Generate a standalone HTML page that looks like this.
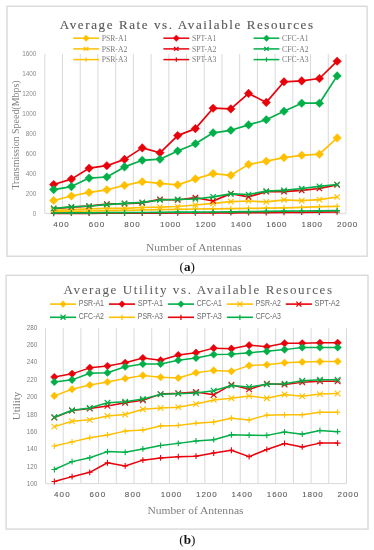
<!DOCTYPE html>
<html><head><meta charset="utf-8"><style>
html,body{margin:0;padding:0;background:#fff;width:374px;height:550px;overflow:hidden;font-family:"Liberation Sans",sans-serif}
svg{display:block;will-change:transform}
</style></head><body>
<svg width="374" height="550" viewBox="0 0 374 550">
<rect x="7" y="6.3" width="360.1" height="249.9" fill="none" stroke="#D9D9D9" stroke-width="1.4"/>
<rect x="6.1" y="275.3" width="361.9" height="253.8" fill="none" stroke="#D9D9D9" stroke-width="1.4"/>
<text x="59.7" y="28.7" font-family="Liberation Serif" font-size="13" fill="#595959" stroke="#595959" stroke-width="0.15" textLength="253.3" lengthAdjust="spacing">Average Rate vs. Available Resources</text>
<line x1="44.8" y1="53.9" x2="44.8" y2="213.4" stroke="#D9D9D9" stroke-width="1"/>
<line x1="62.52" y1="53.9" x2="62.52" y2="213.4" stroke="#D9D9D9" stroke-width="1"/>
<line x1="80.24" y1="53.9" x2="80.24" y2="213.4" stroke="#D9D9D9" stroke-width="1"/>
<line x1="97.95" y1="53.9" x2="97.95" y2="213.4" stroke="#D9D9D9" stroke-width="1"/>
<line x1="115.67" y1="53.9" x2="115.67" y2="213.4" stroke="#D9D9D9" stroke-width="1"/>
<line x1="133.39" y1="53.9" x2="133.39" y2="213.4" stroke="#D9D9D9" stroke-width="1"/>
<line x1="151.11" y1="53.9" x2="151.11" y2="213.4" stroke="#D9D9D9" stroke-width="1"/>
<line x1="168.82" y1="53.9" x2="168.82" y2="213.4" stroke="#D9D9D9" stroke-width="1"/>
<line x1="186.54" y1="53.9" x2="186.54" y2="213.4" stroke="#D9D9D9" stroke-width="1"/>
<line x1="204.26" y1="53.9" x2="204.26" y2="213.4" stroke="#D9D9D9" stroke-width="1"/>
<line x1="221.98" y1="53.9" x2="221.98" y2="213.4" stroke="#D9D9D9" stroke-width="1"/>
<line x1="239.69" y1="53.9" x2="239.69" y2="213.4" stroke="#D9D9D9" stroke-width="1"/>
<line x1="257.41" y1="53.9" x2="257.41" y2="213.4" stroke="#D9D9D9" stroke-width="1"/>
<line x1="275.13" y1="53.9" x2="275.13" y2="213.4" stroke="#D9D9D9" stroke-width="1"/>
<line x1="292.85" y1="53.9" x2="292.85" y2="213.4" stroke="#D9D9D9" stroke-width="1"/>
<line x1="310.56" y1="53.9" x2="310.56" y2="213.4" stroke="#D9D9D9" stroke-width="1"/>
<line x1="328.28" y1="53.9" x2="328.28" y2="213.4" stroke="#D9D9D9" stroke-width="1"/>
<line x1="346" y1="53.9" x2="346" y2="213.4" stroke="#D9D9D9" stroke-width="1"/>
<line x1="44.8" y1="213.4" x2="346" y2="213.4" stroke="#D9D9D9" stroke-width="1"/>
<polyline points="53.66,200.5 71.38,196 89.09,192.4 106.81,189.8 124.53,185.4 142.25,181.7 159.96,183.4 177.68,184.9 195.4,178.9 213.12,173.6 230.84,175.3 248.55,164.4 266.27,161.2 283.99,157.6 301.71,155.3 319.42,154.2 337.14,137.9" fill="none" stroke="#FFC000" stroke-width="1.7" stroke-linejoin="round"/>
<path d="M53.66 196.2L57.96 200.5L53.66 204.8L49.36 200.5Z" fill="#FFC000" stroke="#FFC000" stroke-width="0.4" stroke-linejoin="round"/>
<path d="M71.38 191.7L75.68 196L71.38 200.3L67.08 196Z" fill="#FFC000" stroke="#FFC000" stroke-width="0.4" stroke-linejoin="round"/>
<path d="M89.09 188.1L93.39 192.4L89.09 196.7L84.79 192.4Z" fill="#FFC000" stroke="#FFC000" stroke-width="0.4" stroke-linejoin="round"/>
<path d="M106.81 185.5L111.11 189.8L106.81 194.1L102.51 189.8Z" fill="#FFC000" stroke="#FFC000" stroke-width="0.4" stroke-linejoin="round"/>
<path d="M124.53 181.1L128.83 185.4L124.53 189.7L120.23 185.4Z" fill="#FFC000" stroke="#FFC000" stroke-width="0.4" stroke-linejoin="round"/>
<path d="M142.25 177.4L146.55 181.7L142.25 186L137.95 181.7Z" fill="#FFC000" stroke="#FFC000" stroke-width="0.4" stroke-linejoin="round"/>
<path d="M159.96 179.1L164.26 183.4L159.96 187.7L155.66 183.4Z" fill="#FFC000" stroke="#FFC000" stroke-width="0.4" stroke-linejoin="round"/>
<path d="M177.68 180.6L181.98 184.9L177.68 189.2L173.38 184.9Z" fill="#FFC000" stroke="#FFC000" stroke-width="0.4" stroke-linejoin="round"/>
<path d="M195.4 174.6L199.7 178.9L195.4 183.2L191.1 178.9Z" fill="#FFC000" stroke="#FFC000" stroke-width="0.4" stroke-linejoin="round"/>
<path d="M213.12 169.3L217.42 173.6L213.12 177.9L208.82 173.6Z" fill="#FFC000" stroke="#FFC000" stroke-width="0.4" stroke-linejoin="round"/>
<path d="M230.84 171L235.14 175.3L230.84 179.6L226.54 175.3Z" fill="#FFC000" stroke="#FFC000" stroke-width="0.4" stroke-linejoin="round"/>
<path d="M248.55 160.1L252.85 164.4L248.55 168.7L244.25 164.4Z" fill="#FFC000" stroke="#FFC000" stroke-width="0.4" stroke-linejoin="round"/>
<path d="M266.27 156.9L270.57 161.2L266.27 165.5L261.97 161.2Z" fill="#FFC000" stroke="#FFC000" stroke-width="0.4" stroke-linejoin="round"/>
<path d="M283.99 153.3L288.29 157.6L283.99 161.9L279.69 157.6Z" fill="#FFC000" stroke="#FFC000" stroke-width="0.4" stroke-linejoin="round"/>
<path d="M301.71 151L306.01 155.3L301.71 159.6L297.41 155.3Z" fill="#FFC000" stroke="#FFC000" stroke-width="0.4" stroke-linejoin="round"/>
<path d="M319.42 149.9L323.72 154.2L319.42 158.5L315.12 154.2Z" fill="#FFC000" stroke="#FFC000" stroke-width="0.4" stroke-linejoin="round"/>
<path d="M337.14 133.6L341.44 137.9L337.14 142.2L332.84 137.9Z" fill="#FFC000" stroke="#FFC000" stroke-width="0.4" stroke-linejoin="round"/>
<polyline points="53.66,184.5 71.38,179.1 89.09,168.2 106.81,165.7 124.53,159.4 142.25,147.9 159.96,152.8 177.68,135.6 195.4,128.6 213.12,108.2 230.84,108.9 248.55,93.4 266.27,102.4 283.99,81.8 301.71,80.9 319.42,78.5 337.14,61.2" fill="none" stroke="#E8000B" stroke-width="1.7" stroke-linejoin="round"/>
<path d="M53.66 180.2L57.96 184.5L53.66 188.8L49.36 184.5Z" fill="#E8000B" stroke="#E8000B" stroke-width="0.4" stroke-linejoin="round"/>
<path d="M71.38 174.8L75.68 179.1L71.38 183.4L67.08 179.1Z" fill="#E8000B" stroke="#E8000B" stroke-width="0.4" stroke-linejoin="round"/>
<path d="M89.09 163.9L93.39 168.2L89.09 172.5L84.79 168.2Z" fill="#E8000B" stroke="#E8000B" stroke-width="0.4" stroke-linejoin="round"/>
<path d="M106.81 161.4L111.11 165.7L106.81 170L102.51 165.7Z" fill="#E8000B" stroke="#E8000B" stroke-width="0.4" stroke-linejoin="round"/>
<path d="M124.53 155.1L128.83 159.4L124.53 163.7L120.23 159.4Z" fill="#E8000B" stroke="#E8000B" stroke-width="0.4" stroke-linejoin="round"/>
<path d="M142.25 143.6L146.55 147.9L142.25 152.2L137.95 147.9Z" fill="#E8000B" stroke="#E8000B" stroke-width="0.4" stroke-linejoin="round"/>
<path d="M159.96 148.5L164.26 152.8L159.96 157.1L155.66 152.8Z" fill="#E8000B" stroke="#E8000B" stroke-width="0.4" stroke-linejoin="round"/>
<path d="M177.68 131.3L181.98 135.6L177.68 139.9L173.38 135.6Z" fill="#E8000B" stroke="#E8000B" stroke-width="0.4" stroke-linejoin="round"/>
<path d="M195.4 124.3L199.7 128.6L195.4 132.9L191.1 128.6Z" fill="#E8000B" stroke="#E8000B" stroke-width="0.4" stroke-linejoin="round"/>
<path d="M213.12 103.9L217.42 108.2L213.12 112.5L208.82 108.2Z" fill="#E8000B" stroke="#E8000B" stroke-width="0.4" stroke-linejoin="round"/>
<path d="M230.84 104.6L235.14 108.9L230.84 113.2L226.54 108.9Z" fill="#E8000B" stroke="#E8000B" stroke-width="0.4" stroke-linejoin="round"/>
<path d="M248.55 89.1L252.85 93.4L248.55 97.7L244.25 93.4Z" fill="#E8000B" stroke="#E8000B" stroke-width="0.4" stroke-linejoin="round"/>
<path d="M266.27 98.1L270.57 102.4L266.27 106.7L261.97 102.4Z" fill="#E8000B" stroke="#E8000B" stroke-width="0.4" stroke-linejoin="round"/>
<path d="M283.99 77.5L288.29 81.8L283.99 86.1L279.69 81.8Z" fill="#E8000B" stroke="#E8000B" stroke-width="0.4" stroke-linejoin="round"/>
<path d="M301.71 76.6L306.01 80.9L301.71 85.2L297.41 80.9Z" fill="#E8000B" stroke="#E8000B" stroke-width="0.4" stroke-linejoin="round"/>
<path d="M319.42 74.2L323.72 78.5L319.42 82.8L315.12 78.5Z" fill="#E8000B" stroke="#E8000B" stroke-width="0.4" stroke-linejoin="round"/>
<path d="M337.14 56.9L341.44 61.2L337.14 65.5L332.84 61.2Z" fill="#E8000B" stroke="#E8000B" stroke-width="0.4" stroke-linejoin="round"/>
<polyline points="53.66,189.6 71.38,186.6 89.09,178.1 106.81,177 124.53,166.9 142.25,160.3 159.96,159.2 177.68,151 195.4,143.7 213.12,132.8 230.84,130.3 248.55,124.9 266.27,119.7 283.99,111.2 301.71,103.2 319.42,103.2 337.14,75.9" fill="none" stroke="#00AF48" stroke-width="1.7" stroke-linejoin="round"/>
<path d="M53.66 185.3L57.96 189.6L53.66 193.9L49.36 189.6Z" fill="#00AF48" stroke="#00AF48" stroke-width="0.4" stroke-linejoin="round"/>
<path d="M71.38 182.3L75.68 186.6L71.38 190.9L67.08 186.6Z" fill="#00AF48" stroke="#00AF48" stroke-width="0.4" stroke-linejoin="round"/>
<path d="M89.09 173.8L93.39 178.1L89.09 182.4L84.79 178.1Z" fill="#00AF48" stroke="#00AF48" stroke-width="0.4" stroke-linejoin="round"/>
<path d="M106.81 172.7L111.11 177L106.81 181.3L102.51 177Z" fill="#00AF48" stroke="#00AF48" stroke-width="0.4" stroke-linejoin="round"/>
<path d="M124.53 162.6L128.83 166.9L124.53 171.2L120.23 166.9Z" fill="#00AF48" stroke="#00AF48" stroke-width="0.4" stroke-linejoin="round"/>
<path d="M142.25 156L146.55 160.3L142.25 164.6L137.95 160.3Z" fill="#00AF48" stroke="#00AF48" stroke-width="0.4" stroke-linejoin="round"/>
<path d="M159.96 154.9L164.26 159.2L159.96 163.5L155.66 159.2Z" fill="#00AF48" stroke="#00AF48" stroke-width="0.4" stroke-linejoin="round"/>
<path d="M177.68 146.7L181.98 151L177.68 155.3L173.38 151Z" fill="#00AF48" stroke="#00AF48" stroke-width="0.4" stroke-linejoin="round"/>
<path d="M195.4 139.4L199.7 143.7L195.4 148L191.1 143.7Z" fill="#00AF48" stroke="#00AF48" stroke-width="0.4" stroke-linejoin="round"/>
<path d="M213.12 128.5L217.42 132.8L213.12 137.1L208.82 132.8Z" fill="#00AF48" stroke="#00AF48" stroke-width="0.4" stroke-linejoin="round"/>
<path d="M230.84 126L235.14 130.3L230.84 134.6L226.54 130.3Z" fill="#00AF48" stroke="#00AF48" stroke-width="0.4" stroke-linejoin="round"/>
<path d="M248.55 120.6L252.85 124.9L248.55 129.2L244.25 124.9Z" fill="#00AF48" stroke="#00AF48" stroke-width="0.4" stroke-linejoin="round"/>
<path d="M266.27 115.4L270.57 119.7L266.27 124L261.97 119.7Z" fill="#00AF48" stroke="#00AF48" stroke-width="0.4" stroke-linejoin="round"/>
<path d="M283.99 106.9L288.29 111.2L283.99 115.5L279.69 111.2Z" fill="#00AF48" stroke="#00AF48" stroke-width="0.4" stroke-linejoin="round"/>
<path d="M301.71 98.9L306.01 103.2L301.71 107.5L297.41 103.2Z" fill="#00AF48" stroke="#00AF48" stroke-width="0.4" stroke-linejoin="round"/>
<path d="M319.42 98.9L323.72 103.2L319.42 107.5L315.12 103.2Z" fill="#00AF48" stroke="#00AF48" stroke-width="0.4" stroke-linejoin="round"/>
<path d="M337.14 71.6L341.44 75.9L337.14 80.2L332.84 75.9Z" fill="#00AF48" stroke="#00AF48" stroke-width="0.4" stroke-linejoin="round"/>
<polyline points="53.66,210.4 71.38,209.6 89.09,208.9 106.81,208.4 124.53,208.4 142.25,207.5 159.96,207.1 177.68,206.5 195.4,205 213.12,203.3 230.84,201.7 248.55,201 266.27,201.9 283.99,199.8 301.71,200.7 319.42,199.6 337.14,197" fill="none" stroke="#FFC000" stroke-width="1.7" stroke-linejoin="round"/>
<path d="M50.96 207.7L56.36 213.1M56.36 207.7L50.96 213.1" stroke="#FFC000" stroke-width="1.2" fill="none"/>
<path d="M68.68 206.9L74.08 212.3M74.08 206.9L68.68 212.3" stroke="#FFC000" stroke-width="1.2" fill="none"/>
<path d="M86.39 206.2L91.79 211.6M91.79 206.2L86.39 211.6" stroke="#FFC000" stroke-width="1.2" fill="none"/>
<path d="M104.11 205.7L109.51 211.1M109.51 205.7L104.11 211.1" stroke="#FFC000" stroke-width="1.2" fill="none"/>
<path d="M121.83 205.7L127.23 211.1M127.23 205.7L121.83 211.1" stroke="#FFC000" stroke-width="1.2" fill="none"/>
<path d="M139.55 204.8L144.95 210.2M144.95 204.8L139.55 210.2" stroke="#FFC000" stroke-width="1.2" fill="none"/>
<path d="M157.26 204.4L162.66 209.8M162.66 204.4L157.26 209.8" stroke="#FFC000" stroke-width="1.2" fill="none"/>
<path d="M174.98 203.8L180.38 209.2M180.38 203.8L174.98 209.2" stroke="#FFC000" stroke-width="1.2" fill="none"/>
<path d="M192.7 202.3L198.1 207.7M198.1 202.3L192.7 207.7" stroke="#FFC000" stroke-width="1.2" fill="none"/>
<path d="M210.42 200.6L215.82 206M215.82 200.6L210.42 206" stroke="#FFC000" stroke-width="1.2" fill="none"/>
<path d="M228.14 199L233.54 204.4M233.54 199L228.14 204.4" stroke="#FFC000" stroke-width="1.2" fill="none"/>
<path d="M245.85 198.3L251.25 203.7M251.25 198.3L245.85 203.7" stroke="#FFC000" stroke-width="1.2" fill="none"/>
<path d="M263.57 199.2L268.97 204.6M268.97 199.2L263.57 204.6" stroke="#FFC000" stroke-width="1.2" fill="none"/>
<path d="M281.29 197.1L286.69 202.5M286.69 197.1L281.29 202.5" stroke="#FFC000" stroke-width="1.2" fill="none"/>
<path d="M299.01 198L304.41 203.4M304.41 198L299.01 203.4" stroke="#FFC000" stroke-width="1.2" fill="none"/>
<path d="M316.72 196.9L322.12 202.3M322.12 196.9L316.72 202.3" stroke="#FFC000" stroke-width="1.2" fill="none"/>
<path d="M334.44 194.3L339.84 199.7M339.84 194.3L334.44 199.7" stroke="#FFC000" stroke-width="1.2" fill="none"/>
<polyline points="53.66,208.6 71.38,207.2 89.09,206.2 106.81,204 124.53,203.6 142.25,202.8 159.96,199.4 177.68,200 195.4,197.7 213.12,201 230.84,193.6 248.55,196.9 266.27,191.6 283.99,191.7 301.71,190.4 319.42,188.5 337.14,184.9" fill="none" stroke="#E8000B" stroke-width="1.7" stroke-linejoin="round"/>
<path d="M50.96 205.9L56.36 211.3M56.36 205.9L50.96 211.3" stroke="#E8000B" stroke-width="1.2" fill="none"/>
<path d="M68.68 204.5L74.08 209.9M74.08 204.5L68.68 209.9" stroke="#E8000B" stroke-width="1.2" fill="none"/>
<path d="M86.39 203.5L91.79 208.9M91.79 203.5L86.39 208.9" stroke="#E8000B" stroke-width="1.2" fill="none"/>
<path d="M104.11 201.3L109.51 206.7M109.51 201.3L104.11 206.7" stroke="#E8000B" stroke-width="1.2" fill="none"/>
<path d="M121.83 200.9L127.23 206.3M127.23 200.9L121.83 206.3" stroke="#E8000B" stroke-width="1.2" fill="none"/>
<path d="M139.55 200.1L144.95 205.5M144.95 200.1L139.55 205.5" stroke="#E8000B" stroke-width="1.2" fill="none"/>
<path d="M157.26 196.7L162.66 202.1M162.66 196.7L157.26 202.1" stroke="#E8000B" stroke-width="1.2" fill="none"/>
<path d="M174.98 197.3L180.38 202.7M180.38 197.3L174.98 202.7" stroke="#E8000B" stroke-width="1.2" fill="none"/>
<path d="M192.7 195L198.1 200.4M198.1 195L192.7 200.4" stroke="#E8000B" stroke-width="1.2" fill="none"/>
<path d="M210.42 198.3L215.82 203.7M215.82 198.3L210.42 203.7" stroke="#E8000B" stroke-width="1.2" fill="none"/>
<path d="M228.14 190.9L233.54 196.3M233.54 190.9L228.14 196.3" stroke="#E8000B" stroke-width="1.2" fill="none"/>
<path d="M245.85 194.2L251.25 199.6M251.25 194.2L245.85 199.6" stroke="#E8000B" stroke-width="1.2" fill="none"/>
<path d="M263.57 188.9L268.97 194.3M268.97 188.9L263.57 194.3" stroke="#E8000B" stroke-width="1.2" fill="none"/>
<path d="M281.29 189L286.69 194.4M286.69 189L281.29 194.4" stroke="#E8000B" stroke-width="1.2" fill="none"/>
<path d="M299.01 187.7L304.41 193.1M304.41 187.7L299.01 193.1" stroke="#E8000B" stroke-width="1.2" fill="none"/>
<path d="M316.72 185.8L322.12 191.2M322.12 185.8L316.72 191.2" stroke="#E8000B" stroke-width="1.2" fill="none"/>
<path d="M334.44 182.2L339.84 187.6M339.84 182.2L334.44 187.6" stroke="#E8000B" stroke-width="1.2" fill="none"/>
<polyline points="53.66,208.4 71.38,206.8 89.09,206 106.81,204.6 124.53,203.3 142.25,202.4 159.96,200 177.68,199.4 195.4,199 213.12,196.8 230.84,193.8 248.55,194.5 266.27,191.2 283.99,190.4 301.71,188.5 319.42,186.4 337.14,184.5" fill="none" stroke="#00AF48" stroke-width="1.7" stroke-linejoin="round"/>
<path d="M50.96 205.7L56.36 211.1M56.36 205.7L50.96 211.1" stroke="#00AF48" stroke-width="1.2" fill="none"/>
<path d="M68.68 204.1L74.08 209.5M74.08 204.1L68.68 209.5" stroke="#00AF48" stroke-width="1.2" fill="none"/>
<path d="M86.39 203.3L91.79 208.7M91.79 203.3L86.39 208.7" stroke="#00AF48" stroke-width="1.2" fill="none"/>
<path d="M104.11 201.9L109.51 207.3M109.51 201.9L104.11 207.3" stroke="#00AF48" stroke-width="1.2" fill="none"/>
<path d="M121.83 200.6L127.23 206M127.23 200.6L121.83 206" stroke="#00AF48" stroke-width="1.2" fill="none"/>
<path d="M139.55 199.7L144.95 205.1M144.95 199.7L139.55 205.1" stroke="#00AF48" stroke-width="1.2" fill="none"/>
<path d="M157.26 197.3L162.66 202.7M162.66 197.3L157.26 202.7" stroke="#00AF48" stroke-width="1.2" fill="none"/>
<path d="M174.98 196.7L180.38 202.1M180.38 196.7L174.98 202.1" stroke="#00AF48" stroke-width="1.2" fill="none"/>
<path d="M192.7 196.3L198.1 201.7M198.1 196.3L192.7 201.7" stroke="#00AF48" stroke-width="1.2" fill="none"/>
<path d="M210.42 194.1L215.82 199.5M215.82 194.1L210.42 199.5" stroke="#00AF48" stroke-width="1.2" fill="none"/>
<path d="M228.14 191.1L233.54 196.5M233.54 191.1L228.14 196.5" stroke="#00AF48" stroke-width="1.2" fill="none"/>
<path d="M245.85 191.8L251.25 197.2M251.25 191.8L245.85 197.2" stroke="#00AF48" stroke-width="1.2" fill="none"/>
<path d="M263.57 188.5L268.97 193.9M268.97 188.5L263.57 193.9" stroke="#00AF48" stroke-width="1.2" fill="none"/>
<path d="M281.29 187.7L286.69 193.1M286.69 187.7L281.29 193.1" stroke="#00AF48" stroke-width="1.2" fill="none"/>
<path d="M299.01 185.8L304.41 191.2M304.41 185.8L299.01 191.2" stroke="#00AF48" stroke-width="1.2" fill="none"/>
<path d="M316.72 183.7L322.12 189.1M322.12 183.7L316.72 189.1" stroke="#00AF48" stroke-width="1.2" fill="none"/>
<path d="M334.44 181.8L339.84 187.2M339.84 181.8L334.44 187.2" stroke="#00AF48" stroke-width="1.2" fill="none"/>
<polyline points="53.66,211.7 71.38,211.4 89.09,211 106.81,210.7 124.53,210.3 142.25,210 159.96,209.7 177.68,209.4 195.4,209 213.12,208.8 230.84,208.6 248.55,208.4 266.27,208.2 283.99,207.9 301.71,207.4 319.42,206.7 337.14,206.3" fill="none" stroke="#FFC000" stroke-width="1.7" stroke-linejoin="round"/>
<path d="M53.66 208.9L53.66 214.5M50.86 211.7L56.46 211.7" stroke="#FFC000" stroke-width="1.2" fill="none"/>
<path d="M71.38 208.6L71.38 214.2M68.58 211.4L74.18 211.4" stroke="#FFC000" stroke-width="1.2" fill="none"/>
<path d="M89.09 208.2L89.09 213.8M86.29 211L91.89 211" stroke="#FFC000" stroke-width="1.2" fill="none"/>
<path d="M106.81 207.9L106.81 213.5M104.01 210.7L109.61 210.7" stroke="#FFC000" stroke-width="1.2" fill="none"/>
<path d="M124.53 207.5L124.53 213.1M121.73 210.3L127.33 210.3" stroke="#FFC000" stroke-width="1.2" fill="none"/>
<path d="M142.25 207.2L142.25 212.8M139.45 210L145.05 210" stroke="#FFC000" stroke-width="1.2" fill="none"/>
<path d="M159.96 206.9L159.96 212.5M157.16 209.7L162.76 209.7" stroke="#FFC000" stroke-width="1.2" fill="none"/>
<path d="M177.68 206.6L177.68 212.2M174.88 209.4L180.48 209.4" stroke="#FFC000" stroke-width="1.2" fill="none"/>
<path d="M195.4 206.2L195.4 211.8M192.6 209L198.2 209" stroke="#FFC000" stroke-width="1.2" fill="none"/>
<path d="M213.12 206L213.12 211.6M210.32 208.8L215.92 208.8" stroke="#FFC000" stroke-width="1.2" fill="none"/>
<path d="M230.84 205.8L230.84 211.4M228.04 208.6L233.64 208.6" stroke="#FFC000" stroke-width="1.2" fill="none"/>
<path d="M248.55 205.6L248.55 211.2M245.75 208.4L251.35 208.4" stroke="#FFC000" stroke-width="1.2" fill="none"/>
<path d="M266.27 205.4L266.27 211M263.47 208.2L269.07 208.2" stroke="#FFC000" stroke-width="1.2" fill="none"/>
<path d="M283.99 205.1L283.99 210.7M281.19 207.9L286.79 207.9" stroke="#FFC000" stroke-width="1.2" fill="none"/>
<path d="M301.71 204.6L301.71 210.2M298.91 207.4L304.51 207.4" stroke="#FFC000" stroke-width="1.2" fill="none"/>
<path d="M319.42 203.9L319.42 209.5M316.62 206.7L322.22 206.7" stroke="#FFC000" stroke-width="1.2" fill="none"/>
<path d="M337.14 203.5L337.14 209.1M334.34 206.3L339.94 206.3" stroke="#FFC000" stroke-width="1.2" fill="none"/>
<polyline points="53.66,213.4 71.38,213.3 89.09,213.3 106.81,213.2 124.53,213.2 142.25,213.1 159.96,213.1 177.68,213 195.4,213 213.12,212.9 230.84,212.8 248.55,212.7 266.27,212.6 283.99,212.5 301.71,212.3 319.42,212.2 337.14,212" fill="none" stroke="#E8000B" stroke-width="1.7" stroke-linejoin="round"/>
<path d="M53.66 210.6L53.66 216.2M50.86 213.4L56.46 213.4" stroke="#E8000B" stroke-width="1.2" fill="none"/>
<path d="M71.38 210.5L71.38 216.1M68.58 213.3L74.18 213.3" stroke="#E8000B" stroke-width="1.2" fill="none"/>
<path d="M89.09 210.5L89.09 216.1M86.29 213.3L91.89 213.3" stroke="#E8000B" stroke-width="1.2" fill="none"/>
<path d="M106.81 210.4L106.81 216M104.01 213.2L109.61 213.2" stroke="#E8000B" stroke-width="1.2" fill="none"/>
<path d="M124.53 210.4L124.53 216M121.73 213.2L127.33 213.2" stroke="#E8000B" stroke-width="1.2" fill="none"/>
<path d="M142.25 210.3L142.25 215.9M139.45 213.1L145.05 213.1" stroke="#E8000B" stroke-width="1.2" fill="none"/>
<path d="M159.96 210.3L159.96 215.9M157.16 213.1L162.76 213.1" stroke="#E8000B" stroke-width="1.2" fill="none"/>
<path d="M177.68 210.2L177.68 215.8M174.88 213L180.48 213" stroke="#E8000B" stroke-width="1.2" fill="none"/>
<path d="M195.4 210.2L195.4 215.8M192.6 213L198.2 213" stroke="#E8000B" stroke-width="1.2" fill="none"/>
<path d="M213.12 210.1L213.12 215.7M210.32 212.9L215.92 212.9" stroke="#E8000B" stroke-width="1.2" fill="none"/>
<path d="M230.84 210L230.84 215.6M228.04 212.8L233.64 212.8" stroke="#E8000B" stroke-width="1.2" fill="none"/>
<path d="M248.55 209.9L248.55 215.5M245.75 212.7L251.35 212.7" stroke="#E8000B" stroke-width="1.2" fill="none"/>
<path d="M266.27 209.8L266.27 215.4M263.47 212.6L269.07 212.6" stroke="#E8000B" stroke-width="1.2" fill="none"/>
<path d="M283.99 209.7L283.99 215.3M281.19 212.5L286.79 212.5" stroke="#E8000B" stroke-width="1.2" fill="none"/>
<path d="M301.71 209.5L301.71 215.1M298.91 212.3L304.51 212.3" stroke="#E8000B" stroke-width="1.2" fill="none"/>
<path d="M319.42 209.4L319.42 215M316.62 212.2L322.22 212.2" stroke="#E8000B" stroke-width="1.2" fill="none"/>
<path d="M337.14 209.2L337.14 214.8M334.34 212L339.94 212" stroke="#E8000B" stroke-width="1.2" fill="none"/>
<polyline points="53.66,213 71.38,212.9 89.09,212.8 106.81,212.7 124.53,212.6 142.25,212.5 159.96,212.4 177.68,212.2 195.4,212.1 213.12,212 230.84,211.8 248.55,211.6 266.27,211.4 283.99,211.2 301.71,211 319.42,210.8 337.14,210.6" fill="none" stroke="#00AF48" stroke-width="1.7" stroke-linejoin="round"/>
<path d="M53.66 210.2L53.66 215.8M50.86 213L56.46 213" stroke="#00AF48" stroke-width="1.2" fill="none"/>
<path d="M71.38 210.1L71.38 215.7M68.58 212.9L74.18 212.9" stroke="#00AF48" stroke-width="1.2" fill="none"/>
<path d="M89.09 210L89.09 215.6M86.29 212.8L91.89 212.8" stroke="#00AF48" stroke-width="1.2" fill="none"/>
<path d="M106.81 209.9L106.81 215.5M104.01 212.7L109.61 212.7" stroke="#00AF48" stroke-width="1.2" fill="none"/>
<path d="M124.53 209.8L124.53 215.4M121.73 212.6L127.33 212.6" stroke="#00AF48" stroke-width="1.2" fill="none"/>
<path d="M142.25 209.7L142.25 215.3M139.45 212.5L145.05 212.5" stroke="#00AF48" stroke-width="1.2" fill="none"/>
<path d="M159.96 209.6L159.96 215.2M157.16 212.4L162.76 212.4" stroke="#00AF48" stroke-width="1.2" fill="none"/>
<path d="M177.68 209.4L177.68 215M174.88 212.2L180.48 212.2" stroke="#00AF48" stroke-width="1.2" fill="none"/>
<path d="M195.4 209.3L195.4 214.9M192.6 212.1L198.2 212.1" stroke="#00AF48" stroke-width="1.2" fill="none"/>
<path d="M213.12 209.2L213.12 214.8M210.32 212L215.92 212" stroke="#00AF48" stroke-width="1.2" fill="none"/>
<path d="M230.84 209L230.84 214.6M228.04 211.8L233.64 211.8" stroke="#00AF48" stroke-width="1.2" fill="none"/>
<path d="M248.55 208.8L248.55 214.4M245.75 211.6L251.35 211.6" stroke="#00AF48" stroke-width="1.2" fill="none"/>
<path d="M266.27 208.6L266.27 214.2M263.47 211.4L269.07 211.4" stroke="#00AF48" stroke-width="1.2" fill="none"/>
<path d="M283.99 208.4L283.99 214M281.19 211.2L286.79 211.2" stroke="#00AF48" stroke-width="1.2" fill="none"/>
<path d="M301.71 208.2L301.71 213.8M298.91 211L304.51 211" stroke="#00AF48" stroke-width="1.2" fill="none"/>
<path d="M319.42 208L319.42 213.6M316.62 210.8L322.22 210.8" stroke="#00AF48" stroke-width="1.2" fill="none"/>
<path d="M337.14 207.8L337.14 213.4M334.34 210.6L339.94 210.6" stroke="#00AF48" stroke-width="1.2" fill="none"/>
<line x1="73.2" y1="38.2" x2="99" y2="38.2" stroke="#FFC000" stroke-width="1.5"/><path d="M86.1 34.9L89.3 38.2L86.1 41.5L82.9 38.2Z" fill="#FFC000" stroke="#FFC000" stroke-width="0.4" stroke-linejoin="round"/><text x="101.7" y="40.97" font-family="Liberation Serif" font-size="7.7" fill="#7A7A7A">PSR-A1</text>
<line x1="163.4" y1="38.2" x2="189.2" y2="38.2" stroke="#E8000B" stroke-width="1.5"/><path d="M176.3 34.9L179.5 38.2L176.3 41.5L173.1 38.2Z" fill="#E8000B" stroke="#E8000B" stroke-width="0.4" stroke-linejoin="round"/><text x="191.9" y="40.97" font-family="Liberation Serif" font-size="7.7" fill="#7A7A7A">SPT-A1</text>
<line x1="253.6" y1="38.2" x2="279.4" y2="38.2" stroke="#00AF48" stroke-width="1.5"/><path d="M266.5 34.9L269.7 38.2L266.5 41.5L263.3 38.2Z" fill="#00AF48" stroke="#00AF48" stroke-width="0.4" stroke-linejoin="round"/><text x="282.1" y="40.97" font-family="Liberation Serif" font-size="7.7" fill="#7A7A7A">CFC-A1</text>
<line x1="73.2" y1="48.9" x2="99" y2="48.9" stroke="#FFC000" stroke-width="1.5"/><path d="M83.8 46.95L88.4 50.85M88.4 46.95L83.8 50.85" stroke="#FFC000" stroke-width="1.25" fill="none"/><text x="101.7" y="51.67" font-family="Liberation Serif" font-size="7.7" fill="#7A7A7A">PSR-A2</text>
<line x1="163.4" y1="48.9" x2="189.2" y2="48.9" stroke="#E8000B" stroke-width="1.5"/><path d="M174 46.95L178.6 50.85M178.6 46.95L174 50.85" stroke="#E8000B" stroke-width="1.25" fill="none"/><text x="191.9" y="51.67" font-family="Liberation Serif" font-size="7.7" fill="#7A7A7A">SPT-A2</text>
<line x1="253.6" y1="48.9" x2="279.4" y2="48.9" stroke="#00AF48" stroke-width="1.5"/><path d="M264.2 46.95L268.8 50.85M268.8 46.95L264.2 50.85" stroke="#00AF48" stroke-width="1.25" fill="none"/><text x="282.1" y="51.67" font-family="Liberation Serif" font-size="7.7" fill="#7A7A7A">CFC-A2</text>
<line x1="73.2" y1="59.6" x2="99" y2="59.6" stroke="#FFC000" stroke-width="1.5"/><path d="M86.1 57.4L86.1 61.8M86.05 59.6L86.15 59.6" stroke="#FFC000" stroke-width="1.25" fill="none"/><text x="101.7" y="62.37" font-family="Liberation Serif" font-size="7.7" fill="#7A7A7A">PSR-A3</text>
<line x1="163.4" y1="59.6" x2="189.2" y2="59.6" stroke="#E8000B" stroke-width="1.5"/><path d="M176.3 57.4L176.3 61.8M176.25 59.6L176.35 59.6" stroke="#E8000B" stroke-width="1.25" fill="none"/><text x="191.9" y="62.37" font-family="Liberation Serif" font-size="7.7" fill="#7A7A7A">SPT-A3</text>
<line x1="253.6" y1="59.6" x2="279.4" y2="59.6" stroke="#00AF48" stroke-width="1.5"/><path d="M266.5 57.4L266.5 61.8M266.45 59.6L266.55 59.6" stroke="#00AF48" stroke-width="1.25" fill="none"/><text x="282.1" y="62.37" font-family="Liberation Serif" font-size="7.7" fill="#7A7A7A">CFC-A3</text>
<text x="36.4" y="215.7" text-anchor="end" font-family="Liberation Sans" font-size="6.4" fill="#8C8C8C">0</text>
<text x="36.4" y="195.7" text-anchor="end" font-family="Liberation Sans" font-size="6.4" fill="#8C8C8C">200</text>
<text x="36.4" y="175.7" text-anchor="end" font-family="Liberation Sans" font-size="6.4" fill="#8C8C8C">400</text>
<text x="36.4" y="155.7" text-anchor="end" font-family="Liberation Sans" font-size="6.4" fill="#8C8C8C">600</text>
<text x="36.4" y="135.7" text-anchor="end" font-family="Liberation Sans" font-size="6.4" fill="#8C8C8C">800</text>
<text x="36.4" y="115.7" text-anchor="end" font-family="Liberation Sans" font-size="6.4" fill="#8C8C8C">1000</text>
<text x="36.4" y="95.7" text-anchor="end" font-family="Liberation Sans" font-size="6.4" fill="#8C8C8C">1200</text>
<text x="36.4" y="75.7" text-anchor="end" font-family="Liberation Sans" font-size="6.4" fill="#8C8C8C">1400</text>
<text x="36.4" y="55.7" text-anchor="end" font-family="Liberation Sans" font-size="6.4" fill="#8C8C8C">1600</text>
<text x="53.2" y="226.6" font-family="Liberation Sans" font-size="8.0" fill="#5A5A5A" stroke="#5A5A5A" stroke-width="0.1" textLength="15.6" lengthAdjust="spacing">400</text>
<text x="88.7" y="226.6" font-family="Liberation Sans" font-size="8.0" fill="#5A5A5A" stroke="#5A5A5A" stroke-width="0.1" textLength="15.6" lengthAdjust="spacing">600</text>
<text x="124.2" y="226.6" font-family="Liberation Sans" font-size="8.0" fill="#5A5A5A" stroke="#5A5A5A" stroke-width="0.1" textLength="15.6" lengthAdjust="spacing">800</text>
<text x="160" y="226.6" font-family="Liberation Sans" font-size="8.0" fill="#5A5A5A" stroke="#5A5A5A" stroke-width="0.1" textLength="20.3" lengthAdjust="spacing">1000</text>
<text x="195.4" y="226.6" font-family="Liberation Sans" font-size="8.0" fill="#5A5A5A" stroke="#5A5A5A" stroke-width="0.1" textLength="20.3" lengthAdjust="spacing">1200</text>
<text x="230.8" y="226.6" font-family="Liberation Sans" font-size="8.0" fill="#5A5A5A" stroke="#5A5A5A" stroke-width="0.1" textLength="20.3" lengthAdjust="spacing">1400</text>
<text x="266.2" y="226.6" font-family="Liberation Sans" font-size="8.0" fill="#5A5A5A" stroke="#5A5A5A" stroke-width="0.1" textLength="20.3" lengthAdjust="spacing">1600</text>
<text x="301.6" y="226.6" font-family="Liberation Sans" font-size="8.0" fill="#5A5A5A" stroke="#5A5A5A" stroke-width="0.1" textLength="20.3" lengthAdjust="spacing">1800</text>
<text x="337" y="226.6" font-family="Liberation Sans" font-size="8.0" fill="#5A5A5A" stroke="#5A5A5A" stroke-width="0.1" textLength="20.3" lengthAdjust="spacing">2000</text>
<text x="0" y="0" transform="translate(19.3 135) rotate(-90)" text-anchor="middle" font-family="Liberation Serif" font-size="10.3" fill="#7F7F7F" textLength="109.2" lengthAdjust="spacingAndGlyphs">Transmission Speed(Mbps)</text>
<text x="146" y="250.5" font-family="Liberation Serif" font-size="11.3" fill="#7F7F7F" textLength="95.7" lengthAdjust="spacingAndGlyphs">Number of Antennas</text>
<text x="187.2" y="271.2" text-anchor="middle" font-family="Liberation Serif" font-size="13.2" fill="#111">(<tspan font-weight="bold">a</tspan>)</text>
<text x="63.5" y="293.6" font-family="Liberation Serif" font-size="13" fill="#5E5E5E" stroke="#5E5E5E" stroke-width="0.05" textLength="268.5" lengthAdjust="spacing">Average Utility vs. Available Resources</text>
<line x1="45.5" y1="328.1" x2="45.5" y2="483.6" stroke="#D9D9D9" stroke-width="1"/>
<line x1="63.21" y1="328.1" x2="63.21" y2="483.6" stroke="#D9D9D9" stroke-width="1"/>
<line x1="80.91" y1="328.1" x2="80.91" y2="483.6" stroke="#D9D9D9" stroke-width="1"/>
<line x1="98.62" y1="328.1" x2="98.62" y2="483.6" stroke="#D9D9D9" stroke-width="1"/>
<line x1="116.32" y1="328.1" x2="116.32" y2="483.6" stroke="#D9D9D9" stroke-width="1"/>
<line x1="134.03" y1="328.1" x2="134.03" y2="483.6" stroke="#D9D9D9" stroke-width="1"/>
<line x1="151.74" y1="328.1" x2="151.74" y2="483.6" stroke="#D9D9D9" stroke-width="1"/>
<line x1="169.44" y1="328.1" x2="169.44" y2="483.6" stroke="#D9D9D9" stroke-width="1"/>
<line x1="187.15" y1="328.1" x2="187.15" y2="483.6" stroke="#D9D9D9" stroke-width="1"/>
<line x1="204.85" y1="328.1" x2="204.85" y2="483.6" stroke="#D9D9D9" stroke-width="1"/>
<line x1="222.56" y1="328.1" x2="222.56" y2="483.6" stroke="#D9D9D9" stroke-width="1"/>
<line x1="240.26" y1="328.1" x2="240.26" y2="483.6" stroke="#D9D9D9" stroke-width="1"/>
<line x1="257.97" y1="328.1" x2="257.97" y2="483.6" stroke="#D9D9D9" stroke-width="1"/>
<line x1="275.68" y1="328.1" x2="275.68" y2="483.6" stroke="#D9D9D9" stroke-width="1"/>
<line x1="293.38" y1="328.1" x2="293.38" y2="483.6" stroke="#D9D9D9" stroke-width="1"/>
<line x1="311.09" y1="328.1" x2="311.09" y2="483.6" stroke="#D9D9D9" stroke-width="1"/>
<line x1="328.79" y1="328.1" x2="328.79" y2="483.6" stroke="#D9D9D9" stroke-width="1"/>
<line x1="346.5" y1="328.1" x2="346.5" y2="483.6" stroke="#D9D9D9" stroke-width="1"/>
<line x1="45.5" y1="483.6" x2="346.5" y2="483.6" stroke="#D9D9D9" stroke-width="1"/>
<polyline points="54.35,395.84 72.06,389.24 89.76,384.98 107.47,381.94 125.18,378.46 142.88,375.42 160.59,377.25 178.29,378.03 196,372.73 213.71,370.38 231.41,371.34 249.12,365.6 266.82,364.74 284.53,362.74 302.24,362.04 319.94,361.61 337.65,361.43" fill="none" stroke="#FFC000" stroke-width="1.5" stroke-linejoin="round"/>
<path d="M54.35 392.04L58.15 395.84L54.35 399.64L50.55 395.84Z" fill="#FFC000" stroke="#FFC000" stroke-width="0.4" stroke-linejoin="round"/>
<path d="M72.06 385.44L75.86 389.24L72.06 393.04L68.26 389.24Z" fill="#FFC000" stroke="#FFC000" stroke-width="0.4" stroke-linejoin="round"/>
<path d="M89.76 381.18L93.56 384.98L89.76 388.78L85.96 384.98Z" fill="#FFC000" stroke="#FFC000" stroke-width="0.4" stroke-linejoin="round"/>
<path d="M107.47 378.14L111.27 381.94L107.47 385.74L103.67 381.94Z" fill="#FFC000" stroke="#FFC000" stroke-width="0.4" stroke-linejoin="round"/>
<path d="M125.18 374.66L128.98 378.46L125.18 382.26L121.38 378.46Z" fill="#FFC000" stroke="#FFC000" stroke-width="0.4" stroke-linejoin="round"/>
<path d="M142.88 371.62L146.68 375.42L142.88 379.22L139.08 375.42Z" fill="#FFC000" stroke="#FFC000" stroke-width="0.4" stroke-linejoin="round"/>
<path d="M160.59 373.45L164.39 377.25L160.59 381.05L156.79 377.25Z" fill="#FFC000" stroke="#FFC000" stroke-width="0.4" stroke-linejoin="round"/>
<path d="M178.29 374.23L182.09 378.03L178.29 381.83L174.49 378.03Z" fill="#FFC000" stroke="#FFC000" stroke-width="0.4" stroke-linejoin="round"/>
<path d="M196 368.93L199.8 372.73L196 376.53L192.2 372.73Z" fill="#FFC000" stroke="#FFC000" stroke-width="0.4" stroke-linejoin="round"/>
<path d="M213.71 366.58L217.51 370.38L213.71 374.18L209.91 370.38Z" fill="#FFC000" stroke="#FFC000" stroke-width="0.4" stroke-linejoin="round"/>
<path d="M231.41 367.54L235.21 371.34L231.41 375.14L227.61 371.34Z" fill="#FFC000" stroke="#FFC000" stroke-width="0.4" stroke-linejoin="round"/>
<path d="M249.12 361.8L252.92 365.6L249.12 369.4L245.32 365.6Z" fill="#FFC000" stroke="#FFC000" stroke-width="0.4" stroke-linejoin="round"/>
<path d="M266.82 360.94L270.62 364.74L266.82 368.54L263.02 364.74Z" fill="#FFC000" stroke="#FFC000" stroke-width="0.4" stroke-linejoin="round"/>
<path d="M284.53 358.94L288.33 362.74L284.53 366.54L280.73 362.74Z" fill="#FFC000" stroke="#FFC000" stroke-width="0.4" stroke-linejoin="round"/>
<path d="M302.24 358.24L306.04 362.04L302.24 365.84L298.44 362.04Z" fill="#FFC000" stroke="#FFC000" stroke-width="0.4" stroke-linejoin="round"/>
<path d="M319.94 357.81L323.74 361.61L319.94 365.41L316.14 361.61Z" fill="#FFC000" stroke="#FFC000" stroke-width="0.4" stroke-linejoin="round"/>
<path d="M337.65 357.63L341.45 361.43L337.65 365.23L333.85 361.43Z" fill="#FFC000" stroke="#FFC000" stroke-width="0.4" stroke-linejoin="round"/>
<polyline points="54.35,377.07 72.06,373.86 89.76,367.86 107.47,365.95 125.18,362.82 142.88,358.05 160.59,360.22 178.29,355 196,352.66 213.71,348.14 231.41,348.66 249.12,345.19 266.82,346.75 284.53,343.27 302.24,343.27 319.94,342.84 337.65,342.84" fill="none" stroke="#E8000B" stroke-width="1.5" stroke-linejoin="round"/>
<path d="M54.35 373.27L58.15 377.07L54.35 380.87L50.55 377.07Z" fill="#E8000B" stroke="#E8000B" stroke-width="0.4" stroke-linejoin="round"/>
<path d="M72.06 370.06L75.86 373.86L72.06 377.66L68.26 373.86Z" fill="#E8000B" stroke="#E8000B" stroke-width="0.4" stroke-linejoin="round"/>
<path d="M89.76 364.06L93.56 367.86L89.76 371.66L85.96 367.86Z" fill="#E8000B" stroke="#E8000B" stroke-width="0.4" stroke-linejoin="round"/>
<path d="M107.47 362.15L111.27 365.95L107.47 369.75L103.67 365.95Z" fill="#E8000B" stroke="#E8000B" stroke-width="0.4" stroke-linejoin="round"/>
<path d="M125.18 359.02L128.98 362.82L125.18 366.62L121.38 362.82Z" fill="#E8000B" stroke="#E8000B" stroke-width="0.4" stroke-linejoin="round"/>
<path d="M142.88 354.25L146.68 358.05L142.88 361.85L139.08 358.05Z" fill="#E8000B" stroke="#E8000B" stroke-width="0.4" stroke-linejoin="round"/>
<path d="M160.59 356.42L164.39 360.22L160.59 364.02L156.79 360.22Z" fill="#E8000B" stroke="#E8000B" stroke-width="0.4" stroke-linejoin="round"/>
<path d="M178.29 351.2L182.09 355L178.29 358.8L174.49 355Z" fill="#E8000B" stroke="#E8000B" stroke-width="0.4" stroke-linejoin="round"/>
<path d="M196 348.86L199.8 352.66L196 356.46L192.2 352.66Z" fill="#E8000B" stroke="#E8000B" stroke-width="0.4" stroke-linejoin="round"/>
<path d="M213.71 344.34L217.51 348.14L213.71 351.94L209.91 348.14Z" fill="#E8000B" stroke="#E8000B" stroke-width="0.4" stroke-linejoin="round"/>
<path d="M231.41 344.86L235.21 348.66L231.41 352.46L227.61 348.66Z" fill="#E8000B" stroke="#E8000B" stroke-width="0.4" stroke-linejoin="round"/>
<path d="M249.12 341.39L252.92 345.19L249.12 348.99L245.32 345.19Z" fill="#E8000B" stroke="#E8000B" stroke-width="0.4" stroke-linejoin="round"/>
<path d="M266.82 342.95L270.62 346.75L266.82 350.55L263.02 346.75Z" fill="#E8000B" stroke="#E8000B" stroke-width="0.4" stroke-linejoin="round"/>
<path d="M284.53 339.47L288.33 343.27L284.53 347.07L280.73 343.27Z" fill="#E8000B" stroke="#E8000B" stroke-width="0.4" stroke-linejoin="round"/>
<path d="M302.24 339.47L306.04 343.27L302.24 347.07L298.44 343.27Z" fill="#E8000B" stroke="#E8000B" stroke-width="0.4" stroke-linejoin="round"/>
<path d="M319.94 339.04L323.74 342.84L319.94 346.64L316.14 342.84Z" fill="#E8000B" stroke="#E8000B" stroke-width="0.4" stroke-linejoin="round"/>
<path d="M337.65 339.04L341.45 342.84L337.65 346.64L333.85 342.84Z" fill="#E8000B" stroke="#E8000B" stroke-width="0.4" stroke-linejoin="round"/>
<polyline points="54.35,381.94 72.06,379.85 89.76,373.25 107.47,372.73 125.18,366.73 142.88,363.95 160.59,363.95 178.29,360.22 196,358.05 213.71,354.48 231.41,354.14 249.12,352.66 266.82,351.36 284.53,349.62 302.24,347.45 319.94,347.45 337.65,347.45" fill="none" stroke="#00AF48" stroke-width="1.5" stroke-linejoin="round"/>
<path d="M54.35 378.14L58.15 381.94L54.35 385.74L50.55 381.94Z" fill="#00AF48" stroke="#00AF48" stroke-width="0.4" stroke-linejoin="round"/>
<path d="M72.06 376.05L75.86 379.85L72.06 383.65L68.26 379.85Z" fill="#00AF48" stroke="#00AF48" stroke-width="0.4" stroke-linejoin="round"/>
<path d="M89.76 369.45L93.56 373.25L89.76 377.05L85.96 373.25Z" fill="#00AF48" stroke="#00AF48" stroke-width="0.4" stroke-linejoin="round"/>
<path d="M107.47 368.93L111.27 372.73L107.47 376.53L103.67 372.73Z" fill="#00AF48" stroke="#00AF48" stroke-width="0.4" stroke-linejoin="round"/>
<path d="M125.18 362.93L128.98 366.73L125.18 370.53L121.38 366.73Z" fill="#00AF48" stroke="#00AF48" stroke-width="0.4" stroke-linejoin="round"/>
<path d="M142.88 360.15L146.68 363.95L142.88 367.75L139.08 363.95Z" fill="#00AF48" stroke="#00AF48" stroke-width="0.4" stroke-linejoin="round"/>
<path d="M160.59 360.15L164.39 363.95L160.59 367.75L156.79 363.95Z" fill="#00AF48" stroke="#00AF48" stroke-width="0.4" stroke-linejoin="round"/>
<path d="M178.29 356.42L182.09 360.22L178.29 364.02L174.49 360.22Z" fill="#00AF48" stroke="#00AF48" stroke-width="0.4" stroke-linejoin="round"/>
<path d="M196 354.25L199.8 358.05L196 361.85L192.2 358.05Z" fill="#00AF48" stroke="#00AF48" stroke-width="0.4" stroke-linejoin="round"/>
<path d="M213.71 350.68L217.51 354.48L213.71 358.28L209.91 354.48Z" fill="#00AF48" stroke="#00AF48" stroke-width="0.4" stroke-linejoin="round"/>
<path d="M231.41 350.34L235.21 354.14L231.41 357.94L227.61 354.14Z" fill="#00AF48" stroke="#00AF48" stroke-width="0.4" stroke-linejoin="round"/>
<path d="M249.12 348.86L252.92 352.66L249.12 356.46L245.32 352.66Z" fill="#00AF48" stroke="#00AF48" stroke-width="0.4" stroke-linejoin="round"/>
<path d="M266.82 347.56L270.62 351.36L266.82 355.16L263.02 351.36Z" fill="#00AF48" stroke="#00AF48" stroke-width="0.4" stroke-linejoin="round"/>
<path d="M284.53 345.82L288.33 349.62L284.53 353.42L280.73 349.62Z" fill="#00AF48" stroke="#00AF48" stroke-width="0.4" stroke-linejoin="round"/>
<path d="M302.24 343.65L306.04 347.45L302.24 351.25L298.44 347.45Z" fill="#00AF48" stroke="#00AF48" stroke-width="0.4" stroke-linejoin="round"/>
<path d="M319.94 343.65L323.74 347.45L319.94 351.25L316.14 347.45Z" fill="#00AF48" stroke="#00AF48" stroke-width="0.4" stroke-linejoin="round"/>
<path d="M337.65 343.65L341.45 347.45L337.65 351.25L333.85 347.45Z" fill="#00AF48" stroke="#00AF48" stroke-width="0.4" stroke-linejoin="round"/>
<polyline points="54.35,426.6 72.06,421.3 89.76,419.82 107.47,415.91 125.18,414.52 142.88,409.31 160.59,408.01 178.29,407.14 196,404.01 213.71,399.93 231.41,398.19 249.12,395.93 266.82,398.19 284.53,394.45 302.24,396.28 319.94,394.1 337.65,393.5" fill="none" stroke="#FFC000" stroke-width="1.5" stroke-linejoin="round"/>
<path d="M51.55 423.8L57.15 429.4M57.15 423.8L51.55 429.4" stroke="#FFC000" stroke-width="1.1" fill="none"/>
<path d="M69.26 418.5L74.86 424.1M74.86 418.5L69.26 424.1" stroke="#FFC000" stroke-width="1.1" fill="none"/>
<path d="M86.96 417.02L92.56 422.62M92.56 417.02L86.96 422.62" stroke="#FFC000" stroke-width="1.1" fill="none"/>
<path d="M104.67 413.11L110.27 418.71M110.27 413.11L104.67 418.71" stroke="#FFC000" stroke-width="1.1" fill="none"/>
<path d="M122.38 411.72L127.98 417.32M127.98 411.72L122.38 417.32" stroke="#FFC000" stroke-width="1.1" fill="none"/>
<path d="M140.08 406.51L145.68 412.11M145.68 406.51L140.08 412.11" stroke="#FFC000" stroke-width="1.1" fill="none"/>
<path d="M157.79 405.21L163.39 410.81M163.39 405.21L157.79 410.81" stroke="#FFC000" stroke-width="1.1" fill="none"/>
<path d="M175.49 404.34L181.09 409.94M181.09 404.34L175.49 409.94" stroke="#FFC000" stroke-width="1.1" fill="none"/>
<path d="M193.2 401.21L198.8 406.81M198.8 401.21L193.2 406.81" stroke="#FFC000" stroke-width="1.1" fill="none"/>
<path d="M210.91 397.13L216.51 402.73M216.51 397.13L210.91 402.73" stroke="#FFC000" stroke-width="1.1" fill="none"/>
<path d="M228.61 395.39L234.21 400.99M234.21 395.39L228.61 400.99" stroke="#FFC000" stroke-width="1.1" fill="none"/>
<path d="M246.32 393.13L251.92 398.73M251.92 393.13L246.32 398.73" stroke="#FFC000" stroke-width="1.1" fill="none"/>
<path d="M264.02 395.39L269.62 400.99M269.62 395.39L264.02 400.99" stroke="#FFC000" stroke-width="1.1" fill="none"/>
<path d="M281.73 391.65L287.33 397.25M287.33 391.65L281.73 397.25" stroke="#FFC000" stroke-width="1.1" fill="none"/>
<path d="M299.44 393.48L305.04 399.08M305.04 393.48L299.44 399.08" stroke="#FFC000" stroke-width="1.1" fill="none"/>
<path d="M317.14 391.3L322.74 396.9M322.74 391.3L317.14 396.9" stroke="#FFC000" stroke-width="1.1" fill="none"/>
<path d="M334.85 390.7L340.45 396.3M340.45 390.7L334.85 396.3" stroke="#FFC000" stroke-width="1.1" fill="none"/>
<polyline points="54.35,417.56 72.06,410.61 89.76,408.44 107.47,405.92 125.18,402.79 142.88,400.36 160.59,394.1 178.29,393.24 196,391.93 213.71,394.8 231.41,384.72 249.12,389.33 266.82,383.76 284.53,384.55 302.24,382.37 319.94,381.24 337.65,381.24" fill="none" stroke="#E8000B" stroke-width="1.5" stroke-linejoin="round"/>
<path d="M51.55 414.76L57.15 420.36M57.15 414.76L51.55 420.36" stroke="#E8000B" stroke-width="1.1" fill="none"/>
<path d="M69.26 407.81L74.86 413.41M74.86 407.81L69.26 413.41" stroke="#E8000B" stroke-width="1.1" fill="none"/>
<path d="M86.96 405.64L92.56 411.24M92.56 405.64L86.96 411.24" stroke="#E8000B" stroke-width="1.1" fill="none"/>
<path d="M104.67 403.12L110.27 408.72M110.27 403.12L104.67 408.72" stroke="#E8000B" stroke-width="1.1" fill="none"/>
<path d="M122.38 399.99L127.98 405.59M127.98 399.99L122.38 405.59" stroke="#E8000B" stroke-width="1.1" fill="none"/>
<path d="M140.08 397.56L145.68 403.16M145.68 397.56L140.08 403.16" stroke="#E8000B" stroke-width="1.1" fill="none"/>
<path d="M157.79 391.3L163.39 396.9M163.39 391.3L157.79 396.9" stroke="#E8000B" stroke-width="1.1" fill="none"/>
<path d="M175.49 390.44L181.09 396.04M181.09 390.44L175.49 396.04" stroke="#E8000B" stroke-width="1.1" fill="none"/>
<path d="M193.2 389.13L198.8 394.73M198.8 389.13L193.2 394.73" stroke="#E8000B" stroke-width="1.1" fill="none"/>
<path d="M210.91 392L216.51 397.6M216.51 392L210.91 397.6" stroke="#E8000B" stroke-width="1.1" fill="none"/>
<path d="M228.61 381.92L234.21 387.52M234.21 381.92L228.61 387.52" stroke="#E8000B" stroke-width="1.1" fill="none"/>
<path d="M246.32 386.53L251.92 392.13M251.92 386.53L246.32 392.13" stroke="#E8000B" stroke-width="1.1" fill="none"/>
<path d="M264.02 380.96L269.62 386.56M269.62 380.96L264.02 386.56" stroke="#E8000B" stroke-width="1.1" fill="none"/>
<path d="M281.73 381.75L287.33 387.35M287.33 381.75L281.73 387.35" stroke="#E8000B" stroke-width="1.1" fill="none"/>
<path d="M299.44 379.57L305.04 385.17M305.04 379.57L299.44 385.17" stroke="#E8000B" stroke-width="1.1" fill="none"/>
<path d="M317.14 378.44L322.74 384.04M322.74 378.44L317.14 384.04" stroke="#E8000B" stroke-width="1.1" fill="none"/>
<path d="M334.85 378.44L340.45 384.04M340.45 378.44L334.85 384.04" stroke="#E8000B" stroke-width="1.1" fill="none"/>
<polyline points="54.35,417.22 72.06,410.27 89.76,408.01 107.47,402.79 125.18,401.75 142.88,399.06 160.59,394.37 178.29,393.67 196,393.06 213.71,390.8 231.41,385.59 249.12,386.98 266.82,384.29 284.53,383.68 302.24,380.81 319.94,379.77 337.65,379.77" fill="none" stroke="#00AF48" stroke-width="1.5" stroke-linejoin="round"/>
<path d="M51.55 414.42L57.15 420.02M57.15 414.42L51.55 420.02" stroke="#00AF48" stroke-width="1.1" fill="none"/>
<path d="M69.26 407.47L74.86 413.07M74.86 407.47L69.26 413.07" stroke="#00AF48" stroke-width="1.1" fill="none"/>
<path d="M86.96 405.21L92.56 410.81M92.56 405.21L86.96 410.81" stroke="#00AF48" stroke-width="1.1" fill="none"/>
<path d="M104.67 399.99L110.27 405.59M110.27 399.99L104.67 405.59" stroke="#00AF48" stroke-width="1.1" fill="none"/>
<path d="M122.38 398.95L127.98 404.55M127.98 398.95L122.38 404.55" stroke="#00AF48" stroke-width="1.1" fill="none"/>
<path d="M140.08 396.26L145.68 401.86M145.68 396.26L140.08 401.86" stroke="#00AF48" stroke-width="1.1" fill="none"/>
<path d="M157.79 391.57L163.39 397.17M163.39 391.57L157.79 397.17" stroke="#00AF48" stroke-width="1.1" fill="none"/>
<path d="M175.49 390.87L181.09 396.47M181.09 390.87L175.49 396.47" stroke="#00AF48" stroke-width="1.1" fill="none"/>
<path d="M193.2 390.26L198.8 395.86M198.8 390.26L193.2 395.86" stroke="#00AF48" stroke-width="1.1" fill="none"/>
<path d="M210.91 388L216.51 393.6M216.51 388L210.91 393.6" stroke="#00AF48" stroke-width="1.1" fill="none"/>
<path d="M228.61 382.79L234.21 388.39M234.21 382.79L228.61 388.39" stroke="#00AF48" stroke-width="1.1" fill="none"/>
<path d="M246.32 384.18L251.92 389.78M251.92 384.18L246.32 389.78" stroke="#00AF48" stroke-width="1.1" fill="none"/>
<path d="M264.02 381.49L269.62 387.09M269.62 381.49L264.02 387.09" stroke="#00AF48" stroke-width="1.1" fill="none"/>
<path d="M281.73 380.88L287.33 386.48M287.33 380.88L281.73 386.48" stroke="#00AF48" stroke-width="1.1" fill="none"/>
<path d="M299.44 378.01L305.04 383.61M305.04 378.01L299.44 383.61" stroke="#00AF48" stroke-width="1.1" fill="none"/>
<path d="M317.14 376.97L322.74 382.57M322.74 376.97L317.14 382.57" stroke="#00AF48" stroke-width="1.1" fill="none"/>
<path d="M334.85 376.97L340.45 382.57M340.45 376.97L334.85 382.57" stroke="#00AF48" stroke-width="1.1" fill="none"/>
<polyline points="54.35,446.06 72.06,441.89 89.76,437.72 107.47,434.94 125.18,431.12 142.88,429.9 160.59,425.91 178.29,425.38 196,423.21 213.71,422 231.41,418.17 249.12,419.91 266.82,415.13 284.53,414.78 302.24,414.78 319.94,412.18 337.65,412.18" fill="none" stroke="#FFC000" stroke-width="1.5" stroke-linejoin="round"/>
<path d="M54.35 443.16L54.35 448.96M51.45 446.06L57.25 446.06" stroke="#FFC000" stroke-width="1.1" fill="none"/>
<path d="M72.06 438.99L72.06 444.79M69.16 441.89L74.96 441.89" stroke="#FFC000" stroke-width="1.1" fill="none"/>
<path d="M89.76 434.82L89.76 440.62M86.86 437.72L92.66 437.72" stroke="#FFC000" stroke-width="1.1" fill="none"/>
<path d="M107.47 432.04L107.47 437.84M104.57 434.94L110.37 434.94" stroke="#FFC000" stroke-width="1.1" fill="none"/>
<path d="M125.18 428.22L125.18 434.02M122.28 431.12L128.08 431.12" stroke="#FFC000" stroke-width="1.1" fill="none"/>
<path d="M142.88 427L142.88 432.8M139.98 429.9L145.78 429.9" stroke="#FFC000" stroke-width="1.1" fill="none"/>
<path d="M160.59 423.01L160.59 428.81M157.69 425.91L163.49 425.91" stroke="#FFC000" stroke-width="1.1" fill="none"/>
<path d="M178.29 422.48L178.29 428.28M175.39 425.38L181.19 425.38" stroke="#FFC000" stroke-width="1.1" fill="none"/>
<path d="M196 420.31L196 426.11M193.1 423.21L198.9 423.21" stroke="#FFC000" stroke-width="1.1" fill="none"/>
<path d="M213.71 419.1L213.71 424.9M210.81 422L216.61 422" stroke="#FFC000" stroke-width="1.1" fill="none"/>
<path d="M231.41 415.27L231.41 421.07M228.51 418.17L234.31 418.17" stroke="#FFC000" stroke-width="1.1" fill="none"/>
<path d="M249.12 417.01L249.12 422.81M246.22 419.91L252.02 419.91" stroke="#FFC000" stroke-width="1.1" fill="none"/>
<path d="M266.82 412.23L266.82 418.03M263.92 415.13L269.72 415.13" stroke="#FFC000" stroke-width="1.1" fill="none"/>
<path d="M284.53 411.88L284.53 417.68M281.63 414.78L287.43 414.78" stroke="#FFC000" stroke-width="1.1" fill="none"/>
<path d="M302.24 411.88L302.24 417.68M299.34 414.78L305.14 414.78" stroke="#FFC000" stroke-width="1.1" fill="none"/>
<path d="M319.94 409.28L319.94 415.08M317.04 412.18L322.84 412.18" stroke="#FFC000" stroke-width="1.1" fill="none"/>
<path d="M337.65 409.28L337.65 415.08M334.75 412.18L340.55 412.18" stroke="#FFC000" stroke-width="1.1" fill="none"/>
<polyline points="54.35,481.51 72.06,476.65 89.76,472.3 107.47,462.75 125.18,465.96 142.88,460.14 160.59,457.97 178.29,456.66 196,456.14 213.71,453.02 231.41,450.23 249.12,456.66 266.82,449.45 284.53,443.46 302.24,446.93 319.94,443.11 337.65,443.11" fill="none" stroke="#E8000B" stroke-width="1.5" stroke-linejoin="round"/>
<path d="M54.35 478.61L54.35 484.41M51.45 481.51L57.25 481.51" stroke="#E8000B" stroke-width="1.1" fill="none"/>
<path d="M72.06 473.75L72.06 479.55M69.16 476.65L74.96 476.65" stroke="#E8000B" stroke-width="1.1" fill="none"/>
<path d="M89.76 469.4L89.76 475.2M86.86 472.3L92.66 472.3" stroke="#E8000B" stroke-width="1.1" fill="none"/>
<path d="M107.47 459.85L107.47 465.65M104.57 462.75L110.37 462.75" stroke="#E8000B" stroke-width="1.1" fill="none"/>
<path d="M125.18 463.06L125.18 468.86M122.28 465.96L128.08 465.96" stroke="#E8000B" stroke-width="1.1" fill="none"/>
<path d="M142.88 457.24L142.88 463.04M139.98 460.14L145.78 460.14" stroke="#E8000B" stroke-width="1.1" fill="none"/>
<path d="M160.59 455.07L160.59 460.87M157.69 457.97L163.49 457.97" stroke="#E8000B" stroke-width="1.1" fill="none"/>
<path d="M178.29 453.76L178.29 459.56M175.39 456.66L181.19 456.66" stroke="#E8000B" stroke-width="1.1" fill="none"/>
<path d="M196 453.24L196 459.04M193.1 456.14L198.9 456.14" stroke="#E8000B" stroke-width="1.1" fill="none"/>
<path d="M213.71 450.12L213.71 455.92M210.81 453.02L216.61 453.02" stroke="#E8000B" stroke-width="1.1" fill="none"/>
<path d="M231.41 447.33L231.41 453.13M228.51 450.23L234.31 450.23" stroke="#E8000B" stroke-width="1.1" fill="none"/>
<path d="M249.12 453.76L249.12 459.56M246.22 456.66L252.02 456.66" stroke="#E8000B" stroke-width="1.1" fill="none"/>
<path d="M266.82 446.55L266.82 452.35M263.92 449.45L269.72 449.45" stroke="#E8000B" stroke-width="1.1" fill="none"/>
<path d="M284.53 440.56L284.53 446.36M281.63 443.46L287.43 443.46" stroke="#E8000B" stroke-width="1.1" fill="none"/>
<path d="M302.24 444.03L302.24 449.83M299.34 446.93L305.14 446.93" stroke="#E8000B" stroke-width="1.1" fill="none"/>
<path d="M319.94 440.21L319.94 446.01M317.04 443.11L322.84 443.11" stroke="#E8000B" stroke-width="1.1" fill="none"/>
<path d="M337.65 440.21L337.65 446.01M334.75 443.11L340.55 443.11" stroke="#E8000B" stroke-width="1.1" fill="none"/>
<polyline points="54.35,469.52 72.06,461.62 89.76,457.79 107.47,451.62 125.18,452.32 142.88,448.93 160.59,445.46 178.29,443.37 196,440.94 213.71,439.72 231.41,434.77 249.12,435.2 266.82,435.38 284.53,431.99 302.24,434.16 319.94,430.51 337.65,431.64" fill="none" stroke="#00AF48" stroke-width="1.5" stroke-linejoin="round"/>
<path d="M54.35 466.62L54.35 472.42M51.45 469.52L57.25 469.52" stroke="#00AF48" stroke-width="1.1" fill="none"/>
<path d="M72.06 458.72L72.06 464.52M69.16 461.62L74.96 461.62" stroke="#00AF48" stroke-width="1.1" fill="none"/>
<path d="M89.76 454.89L89.76 460.69M86.86 457.79L92.66 457.79" stroke="#00AF48" stroke-width="1.1" fill="none"/>
<path d="M107.47 448.72L107.47 454.52M104.57 451.62L110.37 451.62" stroke="#00AF48" stroke-width="1.1" fill="none"/>
<path d="M125.18 449.42L125.18 455.22M122.28 452.32L128.08 452.32" stroke="#00AF48" stroke-width="1.1" fill="none"/>
<path d="M142.88 446.03L142.88 451.83M139.98 448.93L145.78 448.93" stroke="#00AF48" stroke-width="1.1" fill="none"/>
<path d="M160.59 442.56L160.59 448.36M157.69 445.46L163.49 445.46" stroke="#00AF48" stroke-width="1.1" fill="none"/>
<path d="M178.29 440.47L178.29 446.27M175.39 443.37L181.19 443.37" stroke="#00AF48" stroke-width="1.1" fill="none"/>
<path d="M196 438.04L196 443.84M193.1 440.94L198.9 440.94" stroke="#00AF48" stroke-width="1.1" fill="none"/>
<path d="M213.71 436.82L213.71 442.62M210.81 439.72L216.61 439.72" stroke="#00AF48" stroke-width="1.1" fill="none"/>
<path d="M231.41 431.87L231.41 437.67M228.51 434.77L234.31 434.77" stroke="#00AF48" stroke-width="1.1" fill="none"/>
<path d="M249.12 432.3L249.12 438.1M246.22 435.2L252.02 435.2" stroke="#00AF48" stroke-width="1.1" fill="none"/>
<path d="M266.82 432.48L266.82 438.28M263.92 435.38L269.72 435.38" stroke="#00AF48" stroke-width="1.1" fill="none"/>
<path d="M284.53 429.09L284.53 434.89M281.63 431.99L287.43 431.99" stroke="#00AF48" stroke-width="1.1" fill="none"/>
<path d="M302.24 431.26L302.24 437.06M299.34 434.16L305.14 434.16" stroke="#00AF48" stroke-width="1.1" fill="none"/>
<path d="M319.94 427.61L319.94 433.41M317.04 430.51L322.84 430.51" stroke="#00AF48" stroke-width="1.1" fill="none"/>
<path d="M337.65 428.74L337.65 434.54M334.75 431.64L340.55 431.64" stroke="#00AF48" stroke-width="1.1" fill="none"/>
<line x1="50" y1="304.1" x2="76.1" y2="304.1" stroke="#FFC000" stroke-width="1.6"/><path d="M63.05 300.7L66.25 304.1L63.05 307.5L59.85 304.1Z" fill="#FFC000" stroke="#FFC000" stroke-width="0.4" stroke-linejoin="round"/><text x="78.8" y="306.07" font-family="Liberation Sans" font-size="8.2" fill="#6A6A6A" textLength="25.2" lengthAdjust="spacingAndGlyphs">PSR-A1</text>
<line x1="108.95" y1="304.1" x2="135.05" y2="304.1" stroke="#E8000B" stroke-width="1.6"/><path d="M122 300.7L125.2 304.1L122 307.5L118.8 304.1Z" fill="#E8000B" stroke="#E8000B" stroke-width="0.4" stroke-linejoin="round"/><text x="137.75" y="306.07" font-family="Liberation Sans" font-size="8.2" fill="#6A6A6A" textLength="25.2" lengthAdjust="spacingAndGlyphs">SPT-A1</text>
<line x1="167.9" y1="304.1" x2="194" y2="304.1" stroke="#00AF48" stroke-width="1.6"/><path d="M180.95 300.7L184.15 304.1L180.95 307.5L177.75 304.1Z" fill="#00AF48" stroke="#00AF48" stroke-width="0.4" stroke-linejoin="round"/><text x="196.7" y="306.07" font-family="Liberation Sans" font-size="8.2" fill="#6A6A6A" textLength="25.2" lengthAdjust="spacingAndGlyphs">CFC-A1</text>
<line x1="226.85" y1="304.1" x2="252.95" y2="304.1" stroke="#FFC000" stroke-width="1.6"/><path d="M237.4 301.6L242.4 306.6M242.4 301.6L237.4 306.6" stroke="#FFC000" stroke-width="1.25" fill="none"/><text x="255.65" y="306.07" font-family="Liberation Sans" font-size="8.2" fill="#6A6A6A" textLength="25.2" lengthAdjust="spacingAndGlyphs">PSR-A2</text>
<line x1="285.8" y1="304.1" x2="311.9" y2="304.1" stroke="#E8000B" stroke-width="1.6"/><path d="M296.35 301.6L301.35 306.6M301.35 301.6L296.35 306.6" stroke="#E8000B" stroke-width="1.25" fill="none"/><text x="314.6" y="306.07" font-family="Liberation Sans" font-size="8.2" fill="#6A6A6A" textLength="25.2" lengthAdjust="spacingAndGlyphs">SPT-A2</text>
<line x1="50" y1="317.3" x2="76.1" y2="317.3" stroke="#00AF48" stroke-width="1.6"/><path d="M60.55 314.8L65.55 319.8M65.55 314.8L60.55 319.8" stroke="#00AF48" stroke-width="1.25" fill="none"/><text x="78.8" y="319.27" font-family="Liberation Sans" font-size="8.2" fill="#6A6A6A" textLength="25.2" lengthAdjust="spacingAndGlyphs">CFC-A2</text>
<line x1="108.95" y1="317.3" x2="135.05" y2="317.3" stroke="#FFC000" stroke-width="1.6"/><path d="M122 314.7L122 319.9M121.95 317.3L122.05 317.3" stroke="#FFC000" stroke-width="1.25" fill="none"/><text x="137.75" y="319.27" font-family="Liberation Sans" font-size="8.2" fill="#6A6A6A" textLength="25.2" lengthAdjust="spacingAndGlyphs">PSR-A3</text>
<line x1="167.9" y1="317.3" x2="194" y2="317.3" stroke="#E8000B" stroke-width="1.6"/><path d="M180.95 314.7L180.95 319.9M180.9 317.3L181 317.3" stroke="#E8000B" stroke-width="1.25" fill="none"/><text x="196.7" y="319.27" font-family="Liberation Sans" font-size="8.2" fill="#6A6A6A" textLength="25.2" lengthAdjust="spacingAndGlyphs">SPT-A3</text>
<line x1="226.85" y1="317.3" x2="252.95" y2="317.3" stroke="#00AF48" stroke-width="1.6"/><path d="M239.9 314.7L239.9 319.9M239.85 317.3L239.95 317.3" stroke="#00AF48" stroke-width="1.25" fill="none"/><text x="255.65" y="319.27" font-family="Liberation Sans" font-size="8.2" fill="#6A6A6A" textLength="25.2" lengthAdjust="spacingAndGlyphs">CFC-A3</text>
<text x="37.3" y="486.1" text-anchor="end" font-family="Liberation Sans" font-size="7.0" fill="#808080" textLength="10.6" lengthAdjust="spacingAndGlyphs">100</text>
<text x="37.3" y="468.72" text-anchor="end" font-family="Liberation Sans" font-size="7.0" fill="#808080" textLength="10.6" lengthAdjust="spacingAndGlyphs">120</text>
<text x="37.3" y="451.34" text-anchor="end" font-family="Liberation Sans" font-size="7.0" fill="#808080" textLength="10.6" lengthAdjust="spacingAndGlyphs">140</text>
<text x="37.3" y="433.97" text-anchor="end" font-family="Liberation Sans" font-size="7.0" fill="#808080" textLength="10.6" lengthAdjust="spacingAndGlyphs">160</text>
<text x="37.3" y="416.59" text-anchor="end" font-family="Liberation Sans" font-size="7.0" fill="#808080" textLength="10.6" lengthAdjust="spacingAndGlyphs">180</text>
<text x="37.3" y="399.21" text-anchor="end" font-family="Liberation Sans" font-size="7.0" fill="#808080" textLength="10.6" lengthAdjust="spacingAndGlyphs">200</text>
<text x="37.3" y="381.83" text-anchor="end" font-family="Liberation Sans" font-size="7.0" fill="#808080" textLength="10.6" lengthAdjust="spacingAndGlyphs">220</text>
<text x="37.3" y="364.46" text-anchor="end" font-family="Liberation Sans" font-size="7.0" fill="#808080" textLength="10.6" lengthAdjust="spacingAndGlyphs">240</text>
<text x="37.3" y="347.08" text-anchor="end" font-family="Liberation Sans" font-size="7.0" fill="#808080" textLength="10.6" lengthAdjust="spacingAndGlyphs">260</text>
<text x="37.3" y="329.7" text-anchor="end" font-family="Liberation Sans" font-size="7.0" fill="#808080" textLength="10.6" lengthAdjust="spacingAndGlyphs">280</text>
<text x="54" y="497.0" font-family="Liberation Sans" font-size="8.0" fill="#5A5A5A" stroke="#5A5A5A" stroke-width="0.1" textLength="15.7" lengthAdjust="spacing">400</text>
<text x="89.4" y="497.0" font-family="Liberation Sans" font-size="8.0" fill="#5A5A5A" stroke="#5A5A5A" stroke-width="0.1" textLength="15.7" lengthAdjust="spacing">600</text>
<text x="124.8" y="497.0" font-family="Liberation Sans" font-size="8.0" fill="#5A5A5A" stroke="#5A5A5A" stroke-width="0.1" textLength="15.7" lengthAdjust="spacing">800</text>
<text x="160.7" y="497.0" font-family="Liberation Sans" font-size="8.0" fill="#5A5A5A" stroke="#5A5A5A" stroke-width="0.1" textLength="20.5" lengthAdjust="spacing">1000</text>
<text x="196.1" y="497.0" font-family="Liberation Sans" font-size="8.0" fill="#5A5A5A" stroke="#5A5A5A" stroke-width="0.1" textLength="20.5" lengthAdjust="spacing">1200</text>
<text x="231.5" y="497.0" font-family="Liberation Sans" font-size="8.0" fill="#5A5A5A" stroke="#5A5A5A" stroke-width="0.1" textLength="20.5" lengthAdjust="spacing">1400</text>
<text x="266.8" y="497.0" font-family="Liberation Sans" font-size="8.0" fill="#5A5A5A" stroke="#5A5A5A" stroke-width="0.1" textLength="20.5" lengthAdjust="spacing">1600</text>
<text x="302.2" y="497.0" font-family="Liberation Sans" font-size="8.0" fill="#5A5A5A" stroke="#5A5A5A" stroke-width="0.1" textLength="20.5" lengthAdjust="spacing">1800</text>
<text x="337.6" y="497.0" font-family="Liberation Sans" font-size="8.0" fill="#5A5A5A" stroke="#5A5A5A" stroke-width="0.1" textLength="20.5" lengthAdjust="spacing">2000</text>
<text x="0" y="0" transform="translate(19.9 406) rotate(-90)" text-anchor="middle" font-family="Liberation Serif" font-size="11" textLength="28.5" lengthAdjust="spacingAndGlyphs" fill="#7F7F7F">Utility</text>
<text x="147.5" y="513.8" font-family="Liberation Serif" font-size="11" fill="#7F7F7F" textLength="96" lengthAdjust="spacingAndGlyphs">Number of Antennas</text>
<text x="187.4" y="544.3" text-anchor="middle" font-family="Liberation Serif" font-size="13.2" fill="#111">(<tspan font-weight="bold">b</tspan>)</text>
</svg>
</body></html>
